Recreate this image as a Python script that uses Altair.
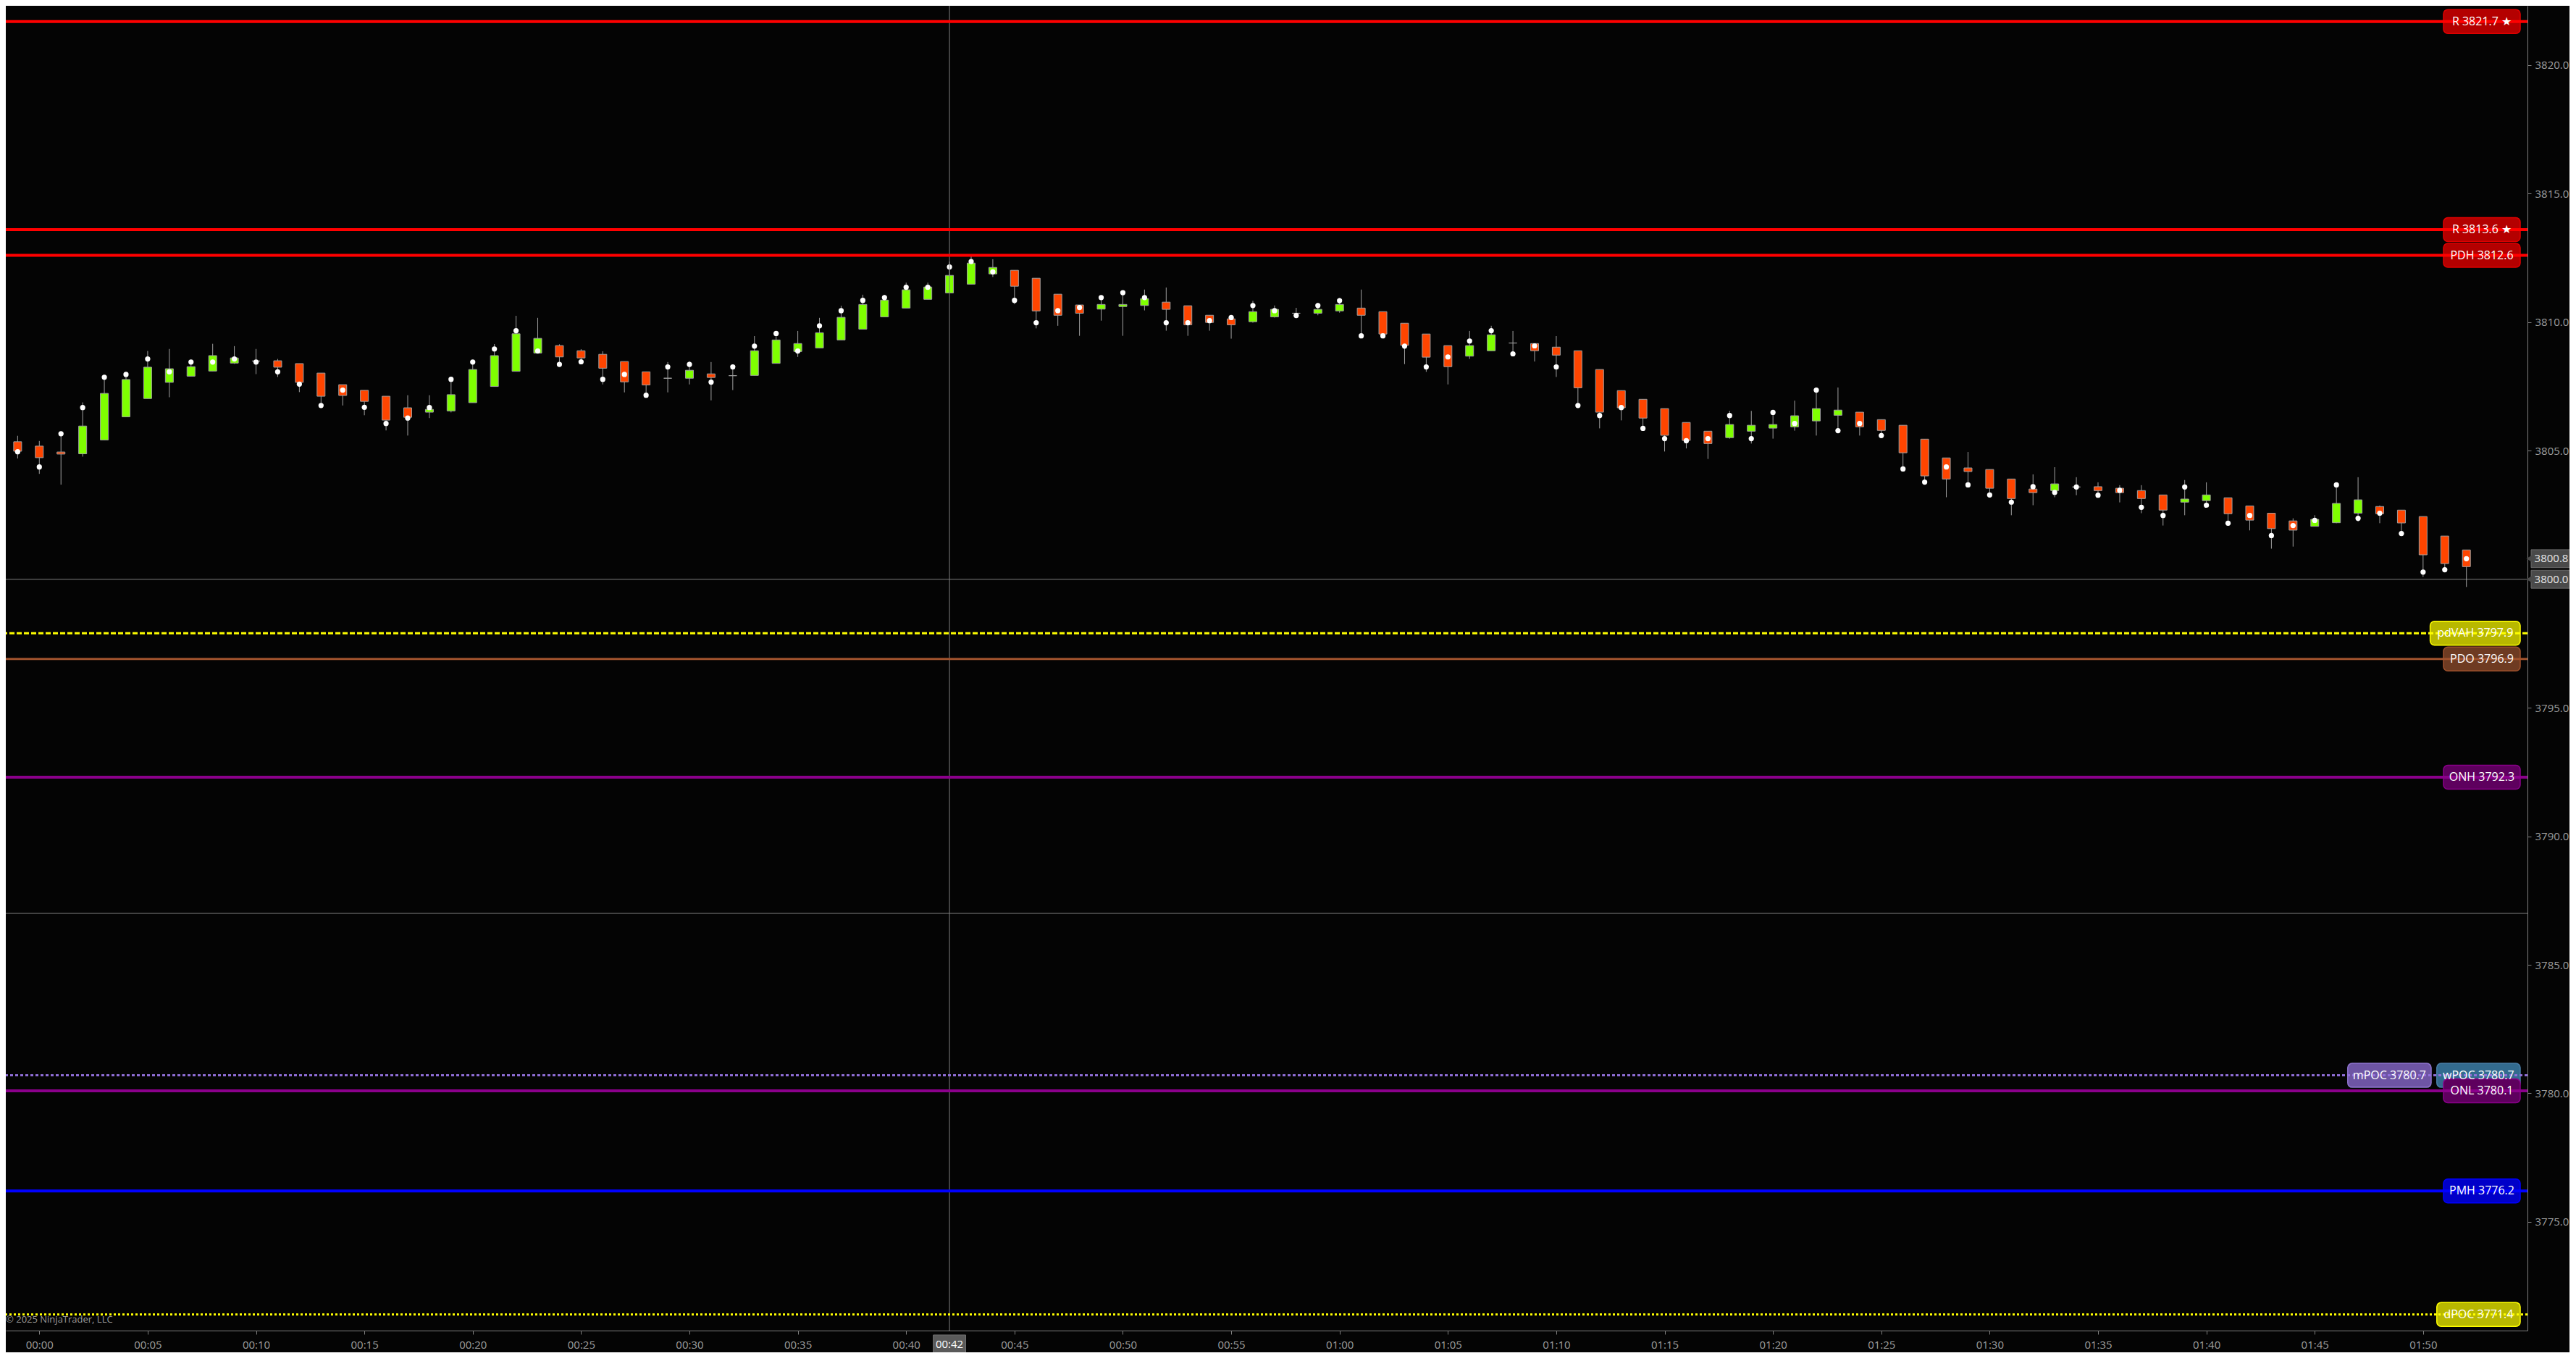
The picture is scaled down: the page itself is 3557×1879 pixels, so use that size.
import altair as alt
import pandas as pd
import numpy as np

# ---------------- data ----------------
minutes = list(range(-1, 113))  # bar time, minutes after 00:00

opens = [3805.35, 3805.18, 3804.95, 3804.88, 3805.42, 3806.32, 3807.03, 3807.66, 3807.90, 3808.10,
         3808.41, 3808.49, 3808.50, 3808.39, 3808.02, 3807.57, 3807.35, 3807.12, 3806.67, 3806.50,
         3806.55, 3806.87, 3807.50, 3808.09, 3808.80, 3809.09, 3808.89, 3808.75, 3808.47, 3808.07,
         3807.82, 3807.82, 3807.99, 3807.92, 3807.93, 3808.40, 3808.86, 3809.00, 3809.31, 3809.73,
         3810.21, 3810.55, 3810.89, 3811.14, 3811.48, 3811.88, 3812.02, 3811.71, 3811.09, 3810.67,
         3810.51, 3810.61, 3810.65, 3810.78, 3810.64, 3810.27, 3810.13, 3810.02, 3810.21, 3810.35,
         3810.35, 3810.44, 3810.55, 3810.41, 3809.96, 3809.54, 3809.09, 3808.68, 3808.89, 3809.19,
         3809.17, 3809.03, 3808.89, 3808.16, 3807.34, 3807.00, 3806.64, 3806.10, 3805.76, 3805.51,
         3805.76, 3805.88, 3805.93, 3806.16, 3806.38, 3806.50, 3806.21, 3805.99, 3805.45, 3804.72,
         3804.33, 3804.27, 3803.90, 3803.51, 3803.45, 3803.59, 3803.60, 3803.54, 3803.45, 3803.28,
         3803.00, 3803.06, 3803.17, 3802.85, 3802.57, 3802.27, 3802.06, 3802.20, 3802.57, 3802.83,
         3802.69, 3802.44, 3801.68, 3801.14]

highs = [3805.58, 3805.38, 3805.73, 3806.88, 3807.89, 3807.98, 3808.88, 3808.96, 3808.50, 3809.16,
         3809.07, 3808.96, 3808.57, 3808.39, 3808.02, 3807.57, 3807.35, 3807.12, 3807.16, 3807.16,
         3807.81, 3808.49, 3809.15, 3810.25, 3810.17, 3809.14, 3808.95, 3808.87, 3808.47, 3808.07,
         3808.45, 3808.48, 3808.45, 3808.35, 3809.46, 3809.65, 3809.66, 3810.17, 3810.64, 3811.07,
         3811.06, 3811.54, 3811.54, 3812.36, 3812.56, 3812.45, 3812.02, 3811.71, 3811.09, 3810.67,
         3811.00, 3811.22, 3811.27, 3811.35, 3810.64, 3810.27, 3810.27, 3810.83, 3810.65, 3810.56,
         3810.75, 3810.94, 3811.27, 3810.41, 3809.96, 3809.54, 3809.09, 3809.66, 3809.86, 3809.66,
         3809.17, 3809.46, 3808.89, 3808.16, 3807.34, 3807.00, 3806.64, 3806.10, 3805.76, 3806.55,
         3806.55, 3806.55, 3806.95, 3807.46, 3807.46, 3806.50, 3806.21, 3805.99, 3805.45, 3804.72,
         3804.95, 3804.27, 3803.90, 3804.08, 3804.36, 3803.97, 3803.77, 3803.66, 3803.66, 3803.28,
         3803.86, 3803.77, 3803.17, 3802.85, 3802.57, 3802.37, 3802.49, 3803.75, 3803.97, 3802.87,
         3802.69, 3802.44, 3801.68, 3801.14]

lows = [3804.70, 3804.10, 3803.68, 3804.77, 3805.42, 3806.32, 3807.03, 3807.08, 3807.90, 3808.10,
        3808.38, 3807.98, 3807.87, 3807.28, 3806.67, 3806.76, 3806.38, 3805.79, 3805.59, 3806.27,
        3806.49, 3806.87, 3807.50, 3808.09, 3808.80, 3808.31, 3808.40, 3807.58, 3807.27, 3807.07,
        3807.27, 3807.58, 3806.96, 3807.36, 3807.93, 3808.40, 3808.65, 3809.00, 3809.31, 3809.73,
        3810.21, 3810.55, 3810.89, 3811.14, 3811.48, 3811.76, 3810.70, 3809.76, 3809.86, 3809.47,
        3810.06, 3809.47, 3810.46, 3809.67, 3809.47, 3809.67, 3809.36, 3809.98, 3810.18, 3810.16,
        3810.27, 3810.37, 3809.43, 3809.41, 3808.37, 3808.07, 3807.58, 3808.57, 3808.89, 3808.73,
        3808.47, 3807.87, 3806.68, 3805.87, 3806.18, 3805.82, 3804.97, 3805.09, 3804.68, 3805.47,
        3805.28, 3805.47, 3805.78, 3805.59, 3805.73, 3805.59, 3805.51, 3804.24, 3803.74, 3803.19,
        3803.61, 3803.24, 3802.49, 3802.88, 3803.19, 3803.27, 3803.19, 3802.99, 3802.57, 3802.09,
        3802.49, 3802.82, 3802.11, 3801.90, 3801.19, 3801.27, 3802.06, 3802.18, 3802.25, 3802.18,
        3801.71, 3800.09, 3800.33, 3799.70]

closes = [3804.98, 3804.73, 3804.87, 3805.96, 3807.23, 3807.77, 3808.25, 3808.19, 3808.27, 3808.70,
          3808.61, 3808.49, 3808.25, 3807.66, 3807.12, 3807.15, 3806.92, 3806.19, 3806.30, 3806.61,
          3807.18, 3808.16, 3808.70, 3809.55, 3809.37, 3808.65, 3808.61, 3808.21, 3807.68, 3807.56,
          3807.82, 3808.13, 3807.85, 3807.92, 3808.89, 3809.31, 3809.17, 3809.59, 3810.19, 3810.69,
          3810.86, 3811.26, 3811.37, 3811.82, 3812.30, 3812.13, 3811.40, 3810.44, 3810.27, 3810.35,
          3810.69, 3810.69, 3810.92, 3810.50, 3809.90, 3809.99, 3809.90, 3810.41, 3810.50, 3810.35,
          3810.50, 3810.69, 3810.27, 3809.54, 3809.10, 3808.64, 3808.27, 3809.09, 3809.51, 3809.19,
          3808.89, 3808.72, 3807.45, 3806.50, 3806.67, 3806.27, 3805.60, 3805.40, 3805.28, 3806.02,
          3805.99, 3806.02, 3806.36, 3806.64, 3806.58, 3805.93, 3805.79, 3804.92, 3804.02, 3803.90,
          3804.19, 3803.54, 3803.14, 3803.37, 3803.71, 3803.59, 3803.45, 3803.37, 3803.14, 3802.69,
          3803.12, 3803.28, 3802.55, 3802.30, 3801.97, 3801.91, 3802.33, 3802.95, 3803.09, 3802.55,
          3802.19, 3800.95, 3800.61, 3800.49]

dots = [3804.96, 3804.37, 3805.66, 3806.68, 3807.86, 3807.97, 3808.57, 3808.07, 3808.45, 3808.45,
        3808.57, 3808.45, 3808.07, 3807.59, 3806.76, 3807.36, 3806.69, 3806.06, 3806.27, 3806.68,
        3807.78, 3808.45, 3808.96, 3809.67, 3808.88, 3808.36, 3808.46, 3807.78, 3807.97, 3807.16,
        3808.26, 3808.36, 3807.67, 3808.26, 3809.07, 3809.56, 3808.88, 3809.86, 3810.45, 3810.85,
        3810.96, 3811.36, 3811.36, 3812.15, 3812.36, 3811.96, 3810.85, 3809.98, 3810.45, 3810.57,
        3810.96, 3811.15, 3810.96, 3809.98, 3809.98, 3810.06, 3810.18, 3810.65, 3810.45, 3810.26,
        3810.65, 3810.84, 3809.47, 3809.47, 3809.07, 3808.26, 3808.65, 3809.27, 3809.67, 3808.77,
        3809.08, 3808.26, 3806.76, 3806.37, 3806.68, 3805.87, 3805.47, 3805.39, 3805.47, 3806.37,
        3805.47, 3806.49, 3806.06, 3807.36, 3805.78, 3806.06, 3805.59, 3804.29, 3803.78, 3804.37,
        3803.67, 3803.28, 3803.00, 3803.60, 3803.38, 3803.59, 3803.27, 3803.46, 3802.80, 3802.48,
        3803.59, 3802.88, 3802.18, 3802.48, 3801.70, 3802.09, 3802.29, 3803.67, 3802.37, 3802.57,
        3801.78, 3800.28, 3800.37, 3800.80]

# key price levels
level_tags = ["R", "R", "PDH", "pdVAH", "PDO", "ONH", "mPOC", "wPOC", "ONL", "PMH", "dPOC"]
level_prices = [3821.7, 3813.6, 3812.6, 3797.9, 3796.9, 3792.3, 3780.7, 3780.7, 3780.1, 3776.2, 3771.4]
level_star = [True, True, False, False, False, False, False, False, False, False, False]

# plain guide lines (drawn horizontal line and crosshair price)
guide_prices = [3787.0, 3800.0]
crosshair_minute = [42]
crosshair_label = ["00:42"]

# price markers on the axis
marker_prices = [3800.8, 3800.0]

tick_minutes = [0, 5, 10, 15, 20, 25, 30, 35, 40, 45, 50, 55, 60, 65, 70, 75, 80, 85, 90, 95, 100, 105, 110]
price_ticks = [3775, 3780, 3785, 3790, 3795, 3800, 3805, 3810, 3815, 3820]
copyright_text = ["© 2025 NinjaTrader, LLC"]

# ---------------- styles ----------------
UP, DOWN, DOJI = "#7FFF00", "#FF4500", "#A0A0A0"
WICK = "#A0A0A0"
BG = "#040404"
level_line_colors = ["#FF0000", "#FF0000", "#FF0000", "#FFFF00", "#A0522D", "#8B008B",
                     "#9370DB", "#9370DB", "#8B008B", "#0000FF", "#FFFF00"]
level_border_colors = ["#E00000", "#E00000", "#E00000", "#FFFF00", "#A0522D", "#8B008B",
                       "#8F75CF", "#4A7FA8", "#8B008B", "#0000FF", "#FFFF00"]
level_fill_colors = ["#B40000", "#B40000", "#B40000", "#B8B800", "#6E3B22", "#5E005E",
                     "#6E55A4", "#336B8F", "#5E005E", "#0000C8", "#B8B800"]
level_style = ["thick", "thick", "thick", "dash", "mid", "thick", "short", "short", "thick", "thick", "dot"]
level_slot = [0, 0, 0, 0, 0, 0, 1, 0, 0, 0, 0]

# line style name -> (stroke width, dash pattern)
STYLE_DEFS = {
    "thick": (4.0, None),
    "mid": (3.0, None),
    "dash": (3.0, [7, 3]),
    "short": (2.5, [4, 3]),
    "dot": (3.0, [3, 3]),
}

PLOT_W, PLOT_H = 3482, 1829
BOX_RIGHT = 3472
BOX_HALF = 0.465  # half label height in price units

# ---------------- frames ----------------
df = pd.DataFrame(dict(t=minutes, open=opens, high=highs, low=lows, close=closes, dot=dots))
df["body_lo"] = np.minimum(df["open"], df["close"])
df["body_hi"] = np.maximum(df["open"], df["close"])
df["fillc"] = np.where(df["close"] > df["open"], UP, np.where(df["close"] < df["open"], DOWN, DOJI))

labels = [f"{t} {p:.1f}" + (" ★" if s else "") for t, p, s in zip(level_tags, level_prices, level_star)]
lv = pd.DataFrame(dict(label=labels, price=level_prices, linec=level_line_colors,
                       border=level_border_colors, fillc=level_fill_colors,
                       style=level_style, slot=level_slot))
lv["bx2"] = BOX_RIGHT - lv["slot"] * 123
lv["bx1"] = lv["bx2"] - (lv["label"].str.len() * 9.2 + 14)
lv["bxc"] = (lv["bx1"] + lv["bx2"]) / 2
lv["ytop"] = lv["price"] + BOX_HALF
lv["ybot"] = lv["price"] - BOX_HALF

gd = pd.DataFrame(dict(price=guide_prices))
ch = pd.DataFrame(dict(t=crosshair_minute, label=crosshair_label))
ch["t1"] = ch["t"] - 0.75
ch["t2"] = ch["t"] + 0.75
mk = pd.DataFrame(dict(price=marker_prices))
mk["label"] = [f"{p:.1f}" for p in marker_prices]
mk["ytop"] = mk["price"] + 0.35
mk["ybot"] = mk["price"] - 0.35

# ---------------- scales / axes ----------------
xscale = alt.Scale(domain=[-1.38, 114.65], nice=False, zero=False)
yscale = alt.Scale(domain=[3770.77, 3822.31], nice=False, zero=False)
time_expr = ("(floor(datum.value/60) < 10 ? '0' : '') + floor(datum.value/60) + ':' + "
             "((datum.value % 60) < 10 ? '0' : '') + (datum.value % 60)")
xaxis = alt.Axis(values=tick_minutes, labelExpr=time_expr, title=None, orient="bottom",
                 labelPadding=7)
yaxis = alt.Axis(values=price_ticks, format=".1f", title=None, orient="right", labelPadding=5)


def X(f):
    return alt.X(f, type="quantitative", scale=xscale, axis=xaxis)


def Y(f):
    return alt.Y(f, type="quantitative", scale=yscale, axis=yaxis)


base = alt.Chart(df)

guides = alt.Chart(gd).mark_rule(color="#7F7F7F", strokeWidth=1).encode(y=Y("price"))

wicks = base.mark_rule(color=WICK, strokeWidth=1).encode(x=X("t"), y=Y("low"), y2="high")
bodies = base.mark_bar(size=11, stroke=WICK, strokeWidth=1, orient="vertical").encode(
    x=X("t"), y=Y("body_lo"), y2="body_hi", fill=alt.Fill("fillc:N", scale=None))
dotm = base.mark_circle(size=52, color="white", opacity=1).encode(x=X("t"), y=Y("dot"))

vline = alt.Chart(ch).mark_rule(color="#7F7F7F", strokeWidth=1).encode(x=X("t"))

boxes = alt.Chart(lv).mark_rect(cornerRadius=6, strokeWidth=1.5).encode(
    x=alt.X("bx1:Q", scale=None, axis=None), x2="bx2:Q",
    y=Y("ytop"), y2="ybot",
    fill=alt.Fill("fillc:N", scale=None), stroke=alt.Stroke("border:N", scale=None))

line_layers = []
for name, (w, dash) in STYLE_DEFS.items():
    kw = dict(strokeWidth=w)
    if dash:
        kw["strokeDash"] = dash
    line_layers.append(
        alt.Chart(lv).transform_filter(alt.datum.style == name).mark_rule(**kw).encode(
            y=Y("price"), color=alt.Color("linec:N", scale=None)))

box_text = alt.Chart(lv).mark_text(font="Open Sans", fontSize=16, color="white",
                                   align="center", baseline="middle").encode(
    x=alt.X("bxc:Q", scale=None, axis=None), y=Y("price"), text="label:N")

mk_rect = alt.Chart(mk).mark_rect(fill="#4A4A4A", stroke="#6A6A6A", strokeWidth=1).encode(
    x=alt.value(3487), x2=alt.value(3546), y=Y("ytop"), y2="ybot")
mk_arrow = alt.Chart(mk).mark_point(shape="M 1 -1 L -0.6 0 L 1 1 Z", size=625, filled=True,
                                    fill="#4A4A4A", strokeWidth=0, opacity=1).encode(
    x=alt.value(3488), y=Y("price"))
mk_text = alt.Chart(mk).mark_text(font="Open Sans", fontSize=15, color="#E8E8E8",
                                  align="center", baseline="middle").encode(
    x=alt.value(3515), y=Y("price"), text="label:N")

tl_rect = alt.Chart(ch).mark_rect(fill="#5A5A5A", stroke="#707070", strokeWidth=1).encode(
    x=X("t1"), x2="t2", y=alt.value(1835), y2=alt.value(1860))
tl_text = alt.Chart(ch).mark_text(font="Open Sans", fontSize=15, color="white",
                                  align="center", baseline="middle").encode(
    x=X("t"), y=alt.value(1848), text="label:N")

copy_txt = alt.Chart(pd.DataFrame(dict(txt=copyright_text))).mark_text(
    font="Open Sans", fontSize=13, color="#9A9A9A", align="left", baseline="middle").encode(
    x=alt.value(0), y=alt.value(1814), text="txt:N")

chart = alt.layer(
    guides, wicks, bodies, dotm, vline, boxes, *line_layers, box_text,
    mk_rect, mk_arrow, mk_text, tl_rect, tl_text, copy_txt
).properties(
    width=PLOT_W, height=PLOT_H,
    padding={"left": 0, "top": 0, "right": 58, "bottom": 30},
    autosize=alt.AutoSizeParams(type="none"),
    background=BG,
).configure_axis(
    domainColor="#7F7F7F", tickColor="#7F7F7F", tickSize=5, domainWidth=1, tickWidth=1,
    labelColor="#9E9E9E", labelFont="Open Sans", labelFontSize=15, grid=False,
).configure_view(stroke=None)

chart.save("out.html", embed_options={"renderer": "svg", "actions": False})
